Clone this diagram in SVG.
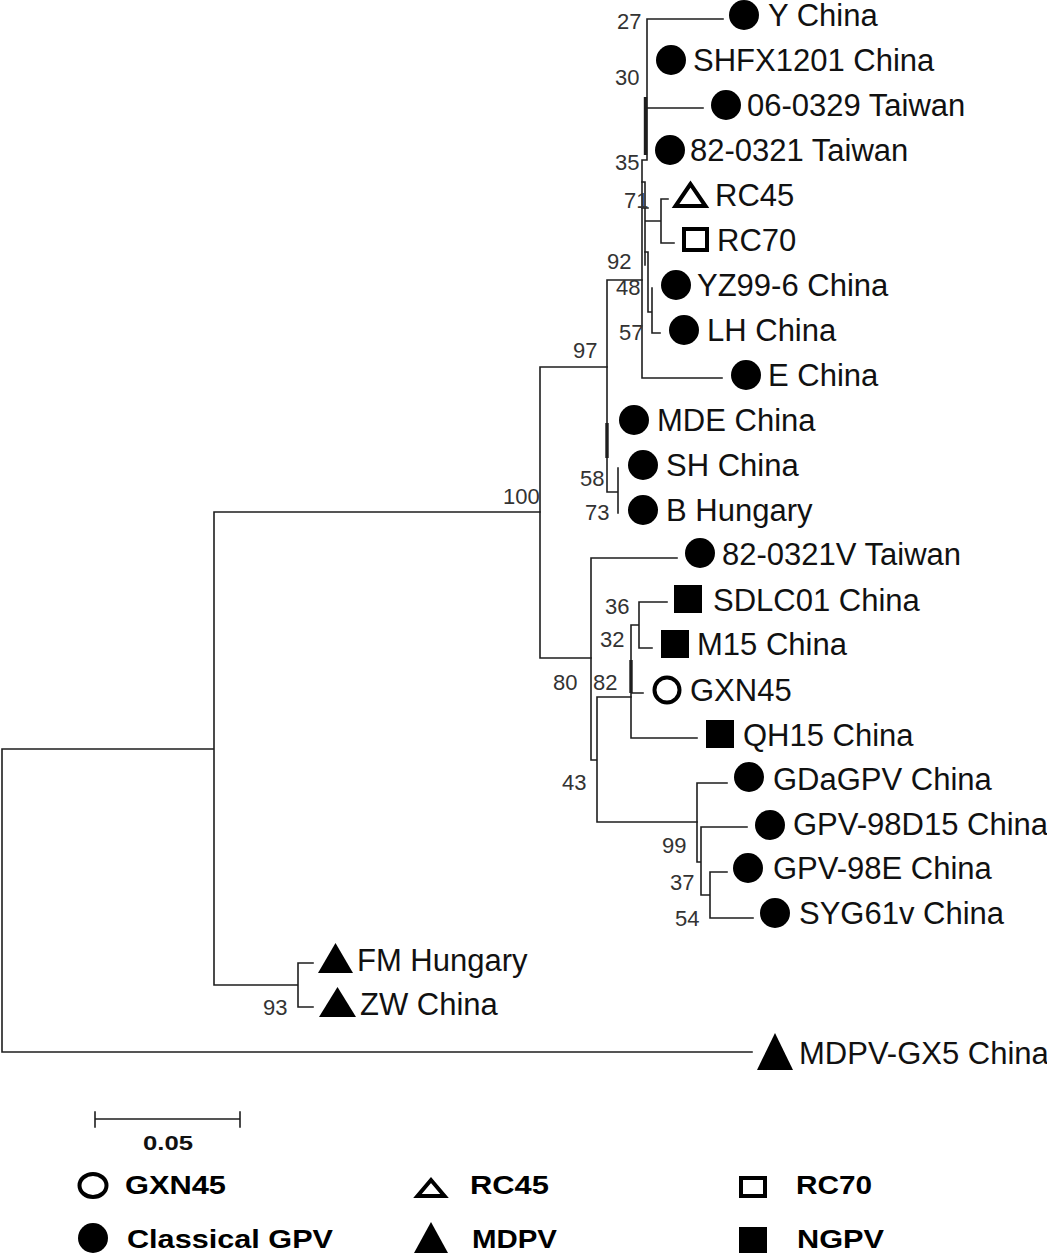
<svg xmlns="http://www.w3.org/2000/svg" width="1047" height="1258" viewBox="0 0 1047 1258">
<style>
.br{fill:none;stroke:#1e1e1e;stroke-width:1.6;stroke-linecap:square}
.thk{fill:none;stroke:#1e1e1e;stroke-width:3.4}
.lf{font-family:"Liberation Sans",Arial,sans-serif;font-size:31px;fill:#111}
.bs{font-family:"Liberation Sans",Arial,sans-serif;font-size:22px;fill:#333}
.fc{fill:#000}
.oc{fill:#fff;stroke:#000;stroke-width:4}
.lg{font-family:"Liberation Sans",Arial,sans-serif;font-size:26px;font-weight:bold;fill:#000}
</style>
<rect width="1047" height="1258" fill="#fff"/>
<g id="connectors">
<path class="br" d="M2,749V1052M2,749H214M2,1052H752M214,512V985M214,512H540M214,985H298M298,963V1007M298,963H313M298,1007H313"/>
<path class="br" d="M540,367V658M540,367H607M540,658H591"/>
<path class="br" d="M607,280V492M607,280H642M607,492H618M618,468V513"/>
<path class="br" d="M642,160V378M642,378H722M647,19V160M642,160H647M647,19H723M647,108H703"/>
<path class="br" d="M645,182V265M645,182H642M642,208H648M645,221H661M661,199V243M661,199H668M661,243H674"/>
<path class="br" d="M645,252H648M648,252V312H652M652,288V333H660"/>
<path class="thk" d="M645.5,97V155M607,423V458"/>
<path class="br" d="M591,558V760M591,558H677M591,760H597M597,697V822M597,697H631M597,822H697"/>
<path class="br" d="M631,625V738M631,625H639M639,602V648M639,602H667M639,648H652M631,693H643M631,738H697"/>
<path class="thk" d="M631,660V693"/>
<path class="br" d="M697,783V862M697,783H727M697,862H701M701,827V895M701,827H747M701,895H710M710,872V918M710,872H727M710,918H753"/>
</g>
<g id="bootstrap">
<text class="bs" x="617" y="29">27</text>
<text class="bs" x="615" y="85">30</text>
<text class="bs" x="615" y="170">35</text>
<text class="bs" x="624" y="208">71</text>
<text class="bs" x="607" y="269">92</text>
<text class="bs" x="616" y="295">48</text>
<text class="bs" x="619" y="340">57</text>
<text class="bs" x="573" y="358">97</text>
<text class="bs" x="580" y="486">58</text>
<text class="bs" x="585" y="520">73</text>
<text class="bs" x="503" y="504">100</text>
<text class="bs" x="605" y="614">36</text>
<text class="bs" x="600" y="647">32</text>
<text class="bs" x="553" y="690">80</text>
<text class="bs" x="593" y="690">82</text>
<text class="bs" x="562" y="790">43</text>
<text class="bs" x="662" y="853">99</text>
<text class="bs" x="670" y="890">37</text>
<text class="bs" x="675" y="926">54</text>
<text class="bs" x="263" y="1015">93</text>
</g>
<g id="Y"><circle class="fc" cx="744" cy="15" r="15"/><text class="lf" x="768" y="26">Y China</text></g>
<g id="SHFX1201"><circle class="fc" cx="671" cy="60" r="15"/><text class="lf" x="693" y="71">SHFX1201 China</text></g>
<g id="T060329"><circle class="fc" cx="726" cy="105" r="15"/><text class="lf" x="747" y="116">06-0329 Taiwan</text></g>
<g id="T820321"><circle class="fc" cx="670" cy="150" r="15"/><text class="lf" x="690" y="161">82-0321 Taiwan</text></g>
<g id="RC45"><path class="oc" d="M690.5,184L675.5,206H705.5Z" stroke-linejoin="miter"/><text class="lf" x="715" y="206">RC45</text></g>
<g id="RC70"><rect class="oc" x="684" y="229" width="23" height="21"/><text class="lf" x="717" y="251">RC70</text></g>
<g id="YZ99-6"><circle class="fc" cx="676" cy="285" r="15"/><text class="lf" x="697" y="296">YZ99-6 China</text></g>
<g id="LH"><circle class="fc" cx="684" cy="330" r="15"/><text class="lf" x="707" y="341">LH China</text></g>
<g id="E"><circle class="fc" cx="746" cy="375" r="15"/><text class="lf" x="768" y="386">E China</text></g>
<g id="MDE"><circle class="fc" cx="634" cy="420" r="15"/><text class="lf" x="657" y="431">MDE China</text></g>
<g id="SH"><circle class="fc" cx="643" cy="465" r="15"/><text class="lf" x="666" y="476">SH China</text></g>
<g id="B"><circle class="fc" cx="643" cy="510" r="15"/><text class="lf" x="666" y="521">B Hungary</text></g>
<g id="T820321V"><circle class="fc" cx="700" cy="553" r="15"/><text class="lf" x="722" y="565">82-0321V Taiwan</text></g>
<g id="SDLC01"><rect class="fc" x="674" y="585" width="28" height="28"/><text class="lf" x="713" y="611">SDLC01 China</text></g>
<g id="M15"><rect class="fc" x="661" y="630" width="28" height="28"/><text class="lf" x="697" y="655">M15 China</text></g>
<g id="GXN45"><circle class="oc" cx="667" cy="690" r="12.5"/><text class="lf" x="690" y="701">GXN45</text></g>
<g id="QH15"><rect class="fc" x="706" y="720" width="28" height="28"/><text class="lf" x="743" y="746">QH15 China</text></g>
<g id="GDaGPV"><circle class="fc" cx="749" cy="777" r="15"/><text class="lf" x="773" y="790">GDaGPV China</text></g>
<g id="GPV-98D15"><circle class="fc" cx="770" cy="825" r="15"/><text class="lf" x="793" y="835">GPV-98D15 China</text></g>
<g id="GPV-98E"><circle class="fc" cx="748" cy="868" r="15"/><text class="lf" x="773" y="879">GPV-98E China</text></g>
<g id="SYG61v"><circle class="fc" cx="775" cy="913" r="15"/><text class="lf" x="799" y="924">SYG61v China</text></g>
<g id="FM"><path class="fc" d="M335.5,943L318,973H353Z"/><text class="lf" x="357" y="971">FM Hungary</text></g>
<g id="ZW"><path class="fc" d="M337.5,987L319,1017H356Z"/><text class="lf" x="360" y="1015">ZW China</text></g>
<g id="MDPV-GX5"><path class="fc" d="M775,1033L757,1070H793Z"/><text class="lf" x="799" y="1064">MDPV-GX5 China</text></g>
<g id="scalebar">
<path class="br" d="M95,1119H240M95,1112V1127M240,1112V1127" stroke-width="2"/>
<text x="143" y="1150" font-family="Liberation Sans, Arial, sans-serif" font-size="21" font-weight="bold" fill="#111" textLength="50" lengthAdjust="spacingAndGlyphs">0.05</text>
</g>
<g id="legend">
<ellipse cx="93" cy="1185.5" rx="13.5" ry="11.5" fill="#fff" stroke="#000" stroke-width="4"/>
<text class="lg" x="125" y="1194" textLength="101" lengthAdjust="spacingAndGlyphs">GXN45</text>
<path d="M431,1180L417.5,1196H444.5Z" fill="#fff" stroke="#000" stroke-width="4"/>
<text class="lg" x="470" y="1194" textLength="79" lengthAdjust="spacingAndGlyphs">RC45</text>
<rect x="741" y="1178" width="24" height="18" fill="#fff" stroke="#000" stroke-width="4"/>
<text class="lg" x="796" y="1194" textLength="76" lengthAdjust="spacingAndGlyphs">RC70</text>
<circle cx="93" cy="1238" r="15" fill="#000"/>
<text class="lg" x="127" y="1248" textLength="206" lengthAdjust="spacingAndGlyphs">Classical GPV</text>
<path d="M431,1222L414,1253H448Z" fill="#000"/>
<text class="lg" x="472" y="1248" textLength="85" lengthAdjust="spacingAndGlyphs">MDPV</text>
<rect x="739" y="1227" width="28" height="26" fill="#000"/>
<text class="lg" x="797" y="1248" textLength="87" lengthAdjust="spacingAndGlyphs">NGPV</text>
</g>
</svg>
